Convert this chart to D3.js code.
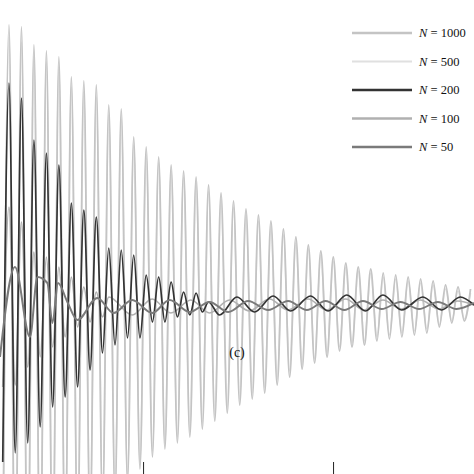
<!DOCTYPE html>
<html><head><meta charset="utf-8">
<script src="https://cdn.jsdelivr.net/npm/d3@7"></script>
<style>body{margin:0;background:#fff}svg{display:block}</style>
</head><body><svg id="c" width="474" height="474"></svg>
<script>
// extrema on a half-cycle grid (first is a trough at t0, step 0.5 cycles)
const gridStart = 0.22, gridStep = 0.5;
const n1000 = [-2.9,2.82,-2.9,2.80,-2.85,2.62,-2.7,2.56,-2.6,2.50,-2.4,2.30,-2.3,2.26,-2.2,2.22,-2.0,2.02,-1.9,1.98,-1.75,1.70,-1.62,1.60,-1.5,1.50,-1.42,1.42,-1.36,1.36,-1.3,1.30,-1.22,1.22,-1.14,1.14,-1.06,1.06,-0.98,0.98,-0.92,0.92,-0.86,0.86,-0.78,0.78,-0.70,0.70,-0.62,0.62,-0.56,0.56,-0.50,0.50,-0.44,0.44,-0.40,0.40,-0.38,0.38,-0.34,0.34,-0.32,0.32,-0.30,0.30,-0.28,0.28,-0.26,0.26,-0.20,0.22,-0.16,0.20,-0.14,0.18];
const n500 = [-2.8,2.7,-2.8,2.65,-2.7,2.5,-2.6,2.45,-2.5,2.4,-2.3,2.2,-2.2,2.15,-2.1,2.1,-1.9,1.92,-1.8,1.88,-1.68,1.62,-1.55,1.52,-1.44,1.44,-1.36,1.36,-1.3,1.3,-1.24,1.24,-1.16,1.16,-1.08,1.08,-1.0,1.0,-0.92,0.92,-0.86,0.86,-0.8,0.8,-0.72,0.72,-0.64,0.64,-0.58,0.58,-0.52,0.52,-0.46,0.46,-0.4,0.4,-0.36,0.36,-0.34,0.34,-0.3,0.3,-0.28,0.28,-0.26,0.26,-0.24,0.24,-0.22,0.22,-0.18,0.18,-0.14,0.16,-0.12,0.14];
const n200Fast = [-1.55,2.24,-1.46,2.09,-1.36,1.67,-1.2,1.54,-1.0,1.42,-0.9,1.04,-0.8,0.97,-0.63,0.9,-0.46,0.59,-0.38,0.57,-0.31,0.52,-0.31,0.32,-0.15,0.30,-0.15,0.25,-0.1,0.15,-0.08,0.14,-0.05,0.05];
const n200SlowT = [17.6,19.0,20.4,21.9,23.3,24.9,26.3,27.8,29.3,30.7,32.2,33.9,35.4,36.9,38];
const n200SlowV = [-0.08,0.1,-0.05,0.11,-0.04,0.11,-0.04,0.12,-0.04,0.12,-0.03,0.1,-0.03,0.1,0.02];
const n100Fast = [-0.8,1.0,-0.78,0.85,-0.6,0.55,-0.5,0.5,-0.4,0.4,-0.3,0.3,-0.2,0.2,-0.15,0.15,-0.1,0.1];
const n100SlowT = [10.6,12.2,13.7,15.3,16.8,18.4,20.0,21.6,23.1,24.7,26.2,27.7,29.2,30.7,32.2,33.7,35.2,36.7,38];
const n100SlowV = [-0.08,0.08,-0.06,0.07,-0.06,0.07,-0.04,0.08,-0.03,0.08,-0.03,0.08,-0.03,0.07,-0.02,0.07,-0.02,0.06,0.02];
const n50T = [0,1.2,2.4,3.0,3.8,4.2,4.65,5.4,6.2,7.8,9.1,10.6,12.2,13.6,15.2,16.8,18.3,19.9,21.5,23.1,24.6,26.1,27.6,29.1,30.6,32.1,33.6,35.1,36.6,38];
const n50V = [-0.5,0.4,-0.3,0.3,0.24,-0.16,0.24,0.05,-0.13,0.09,-0.06,0.07,-0.06,0.07,-0.05,0.05,-0.05,0.06,-0.03,0.06,-0.03,0.06,-0.03,0.06,-0.02,0.05,-0.02,0.05,-0.02,0.04];
const xTicks = [11.47, 26.7];
const legendLabels = ["1000","500","200","100","50"];

const svg = d3.select("#c");
const W = 474, H = 474;
const x = d3.scaleLinear().domain([0,38]).range([0,W]);
const y = d3.scaleLinear().domain([-1.67,3.07]).range([H,0]);

const grid = arr => arr.map((v,i)=>[gridStart+gridStep*i, v]);
const pairs = (t,v) => t.map((tt,i)=>[tt,v[i]]);
const series = {
  "1000": grid(n1000),
  "500": grid(n500),
  "200": grid(n200Fast).concat(pairs(n200SlowT,n200SlowV)),
  "100": grid(n100Fast).concat(pairs(n100SlowT,n100SlowV)),
  "50": pairs(n50T,n50V)
};
const style = {
  "1000":{c:"#c4c4c4",w:1.8},
  "500":{c:"#e0e0e0",w:1.6},
  "200":{c:"#333333",w:1.7},
  "100":{c:"#b0b0b0",w:1.7},
  "50":{c:"#7a7a7a",w:2}
};
svg.append("clipPath").attr("id","cp").append("rect").attr("width",W).attr("height",H);
const line = d3.line().x(d=>x(d[0])).y(d=>y(d[1])).curve(d3.curveMonotoneX);
const g = svg.append("g").attr("clip-path","url(#cp)");
["500","1000","100","200","50"].forEach(k=>{
  g.append("path").datum(series[k]).attr("d",line).attr("fill","none")
   .attr("stroke",style[k].c).attr("stroke-width",style[k].w);
});

const ax = svg.append("g").attr("transform",`translate(0,${H})`)
  .call(d3.axisBottom(x).tickValues(xTicks).tickSize(-12).tickFormat(""));
ax.select(".domain").remove();
ax.selectAll("line").attr("stroke","#222");

svg.append("text").attr("x",237).attr("y",357).attr("text-anchor","middle")
  .attr("font-family","Liberation Serif, serif").attr("font-size",14).attr("fill","#111").text("(c)");

const lg = svg.append("g");
legendLabels.forEach((k,i)=>{
  const yy = 33 + i*28.5;
  lg.append("line").attr("x1",352).attr("x2",412).attr("y1",yy).attr("y2",yy)
    .attr("stroke",style[k].c).attr("stroke-width",style[k].w+0.6);
  const t = lg.append("text").attr("x",419).attr("y",yy+4)
    .attr("font-family","Liberation Serif, serif").attr("font-size",12.5).attr("fill","#111");
  t.append("tspan").attr("font-style","italic").text("N");
  t.append("tspan").text(" = "+k);
});
</script></body></html>
